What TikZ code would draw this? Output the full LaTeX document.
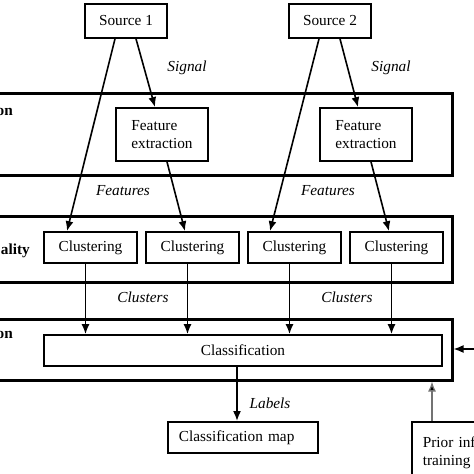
\documentclass[tikz,border=0pt]{standalone}
\usepackage{fontspec}
\setmainfont{Liberation Serif}
\usetikzlibrary{arrows.meta,calc}
\begin{document}
\begin{tikzpicture}[x=1pt,y=-1pt,
  every node/.style={font=\fontsize{15.3}{18}\selectfont},
  box/.style={draw,line width=1.7pt,rectangle,inner sep=0pt},
  band/.style={draw,line width=3pt,rectangle,inner sep=0pt},
  lbl/.style={font=\fontsize{15.3}{18}\selectfont\itshape},
  side/.style={font=\fontsize{15.3}{18}\selectfont\bfseries},
  arr/.style={line width=1.6pt,-{Latex[length=10pt,width=8pt]}},
  garr/.style={line width=1.3pt,draw=black!55,-{Latex[length=10pt,width=8pt,fill=black]}}]
\useasboundingbox (0,0) rectangle (474,474);
\clip (0,0) rectangle (474,474);
\fill[white] (0,0) rectangle (474,474);
% bands
\node[band,minimum width=482,minimum height=82] (b1) at (211,134) {};
\node[band,minimum width=482,minimum height=66] (b2) at (211,249) {};
\node[band,minimum width=482,minimum height=61] (b3) at (211,349.5) {};
% side labels
\node[side,anchor=base east,inner sep=0pt] (l1) at (13,115) {on};
\node[side,anchor=base east,inner sep=0pt] (l2) at (30,254) {ality};
\node[side,anchor=base east,inner sep=0pt] (l3) at (13,338) {on};
% boxes
\node[box,minimum width=82,minimum height=34] (s1) at (126,21) {Source 1};
\node[box,minimum width=82,minimum height=34] (s2) at (330,21) {Source 2};
\node[box,minimum width=92,minimum height=53,align=left] (fe1) at (162,134.5) {Feature\\extraction};
\node[box,minimum width=92,minimum height=53,align=left] (fe2) at (366,134.5) {Feature\\extraction};
\node[box,minimum width=93,minimum height=31] (c1) at (90.5,247.5) {Clustering};
\node[box,minimum width=93,minimum height=31] (c2) at (192.5,247.5) {Clustering};
\node[box,minimum width=93,minimum height=31] (c3) at (294.5,247.5) {Clustering};
\node[box,minimum width=93,minimum height=31] (c4) at (396.5,247.5) {Clustering};
\node[box,minimum width=398,minimum height=31] (cls) at (243,350.5) {Classification};
\node[box,anchor=north west,minimum height=31,text width=128,align=left,inner xsep=11pt] (map) at (167,421) {Classification map};
\node[box,anchor=north west,minimum height=62,text width=128,align=left,inner xsep=11pt,inner ysep=4pt] (prior) at (411,421) {Prior information\\training};
% labels
\node[lbl] (sg1) at (187,68) {Signal};
\node[lbl] (sg2) at (391,68) {Signal};
\node[lbl] (ft1) at (123,191) {Features};
\node[lbl] (ft2) at (328,191) {Features};
\node[lbl] (cl1) at (143,297) {Clusters};
\node[lbl] (cl2) at (347,297) {Clusters};
\node[lbl] (lb) at (270,403) {Labels};
% arrows
\draw[arr] ([xshift=-11pt]s1.south) -- ([xshift=-23.5pt]c1.north);
\draw[arr] ([xshift=10pt]s1.south) -- ([xshift=-7pt]fe1.north);
\draw[arr] ([xshift=5pt]fe1.south) -- ([xshift=-7.5pt]c2.north);
\draw[arr] ([xshift=-11pt]s2.south) -- ([xshift=-24.5pt]c3.north);
\draw[arr] ([xshift=10pt]s2.south) -- ([xshift=-8pt]fe2.north);
\draw[arr] ([xshift=5pt]fe2.south) -- ([xshift=-7.5pt]c4.north);
\foreach \c in {c1,c2,c3,c4}{
  \draw[arr] ([xshift=-5pt]\c.south) -- ([xshift=-5pt]\c.south |- cls.north);
}
\draw[arr] ([xshift=-6pt]cls.south) -- ([xshift=-6pt]cls.south |- map.north);
\draw[garr] ([xshift=21pt]prior.north west) -- ([xshift=21pt]prior.north west |- b3.south);
\coordinate (rt) at (480,349);
\draw[arr] (rt) -- (b3.east |- rt);
\end{tikzpicture}
\end{document}
